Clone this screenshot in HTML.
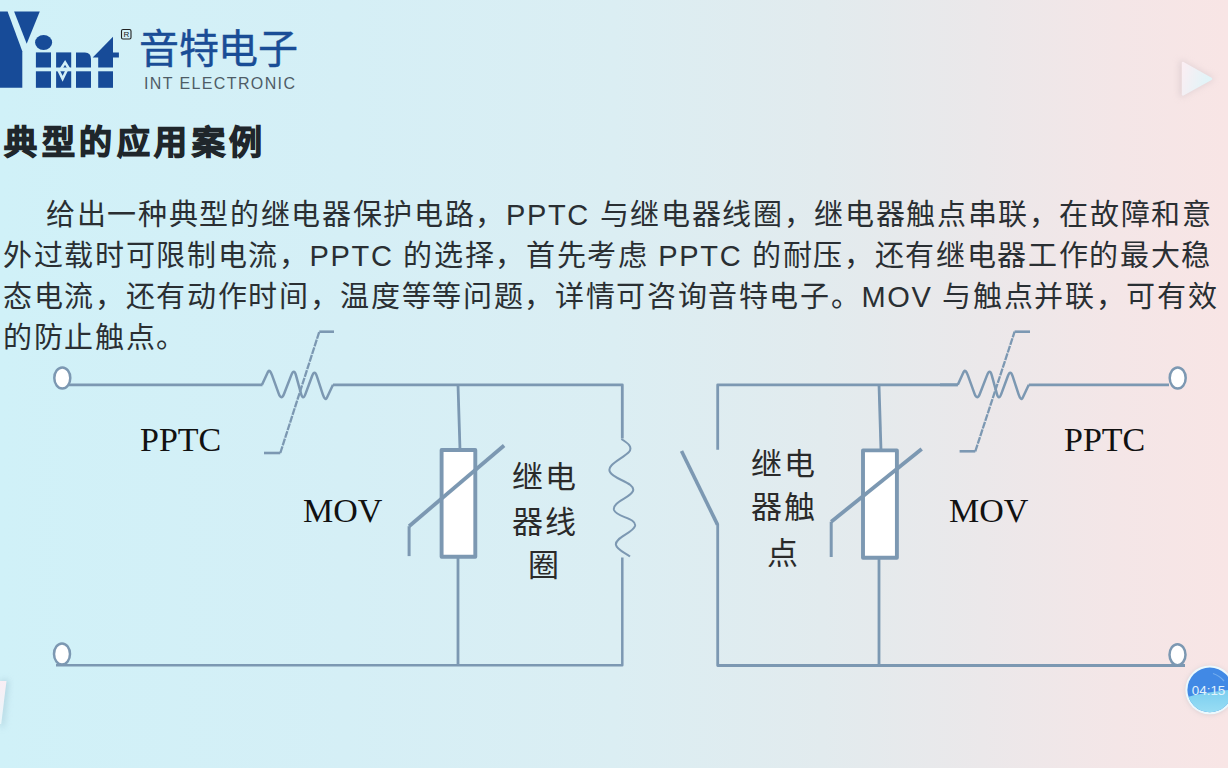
<!DOCTYPE html>
<html lang="zh-CN"><head><meta charset="utf-8">
<style>
html,body{margin:0;padding:0;}
body{width:1228px;height:768px;overflow:hidden;position:relative;
 font-family:"Liberation Sans",sans-serif;
 background:linear-gradient(to right,#d0f1f8 0%,#d5eff6 28%,#dbeef3 50%,#e2ebee 67%,#ebe8ea 80%,#f4e6e7 91%,#f8e5e5 100%);}
.a{position:absolute;white-space:nowrap;}
.p{font-size:29px;color:#2a2f33;line-height:1;text-spacing-trim:space-all;letter-spacing:1.66px}
.title{font-size:33px;font-weight:900;color:#1f262b;line-height:1;letter-spacing:4.5px;-webkit-text-stroke:1.2px #1f262b}
.cn{font-size:31px;color:#2a2a2a;line-height:1;letter-spacing:1.5px}
.ser{font-family:"Liberation Serif",serif;font-size:34px;color:#111;line-height:1;}
</style></head><body>

<!-- logo -->
<svg class="a" style="left:0;top:0" width="140" height="100" viewBox="0 0 140 100">
 <g fill="#174b98">
  <polygon points="0,11.45 7.6,11.45 22.3,51.3 22.3,87.8 0,87.8"/>
  <polygon points="14.1,11.45 39.8,11.45 26.7,43.7"/>
  <ellipse cx="43.6" cy="42.5" rx="8.55" ry="7.4"/>
  <rect x="35.9" y="52.4" width="15.1" height="15.1"/>
  <rect x="35.9" y="71.3" width="15.1" height="16.5"/>
  <rect x="56.1" y="52.4" width="15.1" height="15.1"/>
  <rect x="56.1" y="71.3" width="15.1" height="16.5"/>
  <path d="M76 52.4 H85 Q91 52.4 91 59 V67.5 H76 Z"/>
  <rect x="76" y="71.3" width="15" height="16.5"/>
  <polygon points="113,36.8 113,52.4 118.9,52.4 118.9,57.5 113,57.5 113,67.5 98.2,67.5 98.2,57.5 92.7,57.5"/>
  <rect x="98.2" y="71.3" width="14.8" height="16.5"/>
 </g>
 <polyline points="61.2,68.5 65.1,62.4 68.8,68.5" fill="none" stroke="#d3eff7" stroke-width="2.6"/>
 <polyline points="58.6,70.5 62.6,78.8 66.6,70.5" fill="none" stroke="#d3eff7" stroke-width="2.6"/>
 <g fill="none" stroke="#222" stroke-width="1.1"><rect x="121.5" y="29.5" width="9.5" height="9.5" rx="1.5"/></g>
 <text x="126.3" y="37.3" font-size="8" text-anchor="middle" fill="#222" font-family="Liberation Sans">R</text>
</svg>

<div class="a" style="left:139px;top:29.5px;font-size:40px;letter-spacing:-0.5px;color:#1a4d96;line-height:1;font-family:'Liberation Serif',serif;-webkit-text-stroke:0.4px #1a4d96">音特电子</div>
<div class="a" style="left:144px;top:76px;font-size:16px;letter-spacing:1.38px;color:#4e5c66;line-height:1">INT ELECTRONIC</div>

<div class="a title" style="left:4px;top:126px">典型的应用案例</div>

<div class="a p" style="left:46px;top:201px">给出一种典型的继电器保护电路，PPTC 与继电器线圈，继电器触点串联，在故障和意</div>
<div class="a p" style="left:3px;top:242px">外过载时可限制电流，PPTC 的选择，首先考虑 PPTC 的耐压，还有继电器工作的最大稳</div>
<div class="a p" style="left:3px;top:283px">态电流，还有动作时间，温度等等问题，详情可咨询音特电子。MOV 与触点并联，可有效</div>
<div class="a p" style="left:3px;top:324px">的防止触点。</div>


<svg class="a" style="left:0;top:0" width="1228" height="768" viewBox="0 0 1228 768">
 <g fill="none" stroke="#7c98b2" stroke-width="2.8" stroke-linecap="butt" stroke-linejoin="round">
  <!-- left circuit wires -->
  <path d="M69 384.8 H262.5"/>
  <path d="M333 384.8 H622.3 V438.5"/>
  <path stroke-width="2.5" d="M262.0 384.8 L267.9 371.9 Q269.5 368.3 272.1 375.4 L278.7 393.7 Q281.3 400.8 284.1 393.7 L291.2 375.4 Q294.0 368.3 296.0 375.4 L301.0 393.7 Q303.0 400.8 305.5 393.9 L312.0 376.2 Q314.5 369.3 316.9 376.3 L322.8 394.3 Q325.2 401.3 326.9 397.7 L333.0 384.8"/>
  <path stroke-width="2.5" d="M622.3 557.5 V665.2 H56"/>
  <path d="M458 384.8 L460 450"/>
  <path d="M458 556.5 V665.2"/>
  <!-- coil -->
  <path stroke-width="2" d="M621.3 439 C628 443 633 447 629 452 C622 459 606 465 610 472 C613 479 636 483 633 491 C630 498 612 502 614 510 C616 517 637 518 635 526 C633 533 614 538 616 545 C617 550 626 553 630 556.5"/>
  <!-- MOV left -->
  <rect x="441.6" y="450" width="33.7" height="106.7" fill="#fff" stroke-width="3.9"/>
  <path stroke-width="3.8" d="M409.1 526.2 L504.1 445.5"/>
  <path stroke-width="3" d="M409.1 526.2 V556.1"/>
  <!-- PPTC left thermistor line -->
  <path stroke-width="2.6" d="M264 453 H280.3"/><path stroke-width="2.6" d="M319.3 331.7 H334"/><path stroke-width="2.3" stroke-dasharray="7 1" d="M280.3 453 L319.3 331.7"/>
  <!-- right circuit -->
  <path d="M717.7 449.8 V384.8 H957.8"/>
  <path d="M957.8 384.8 H940"/>
  <path d="M1028.8 384.8 H1169"/>
  <path stroke-width="2.5" d="M957.8 384.8 L963.6 371.9 Q965.3 368.3 967.9 375.4 L974.5 393.7 Q977.1 400.8 979.9 393.7 L987.0 375.4 Q989.8 368.3 991.8 375.4 L996.8 393.7 Q998.8 400.8 1001.3 393.9 L1007.8 376.2 Q1010.3 369.3 1012.7 376.3 L1018.6 394.3 Q1021.0 401.3 1022.7 397.7 L1028.8 384.8"/>
  <path stroke-width="3.6" d="M681.5 451 L717.5 524.6"/>
  <path d="M717.7 524 V665.5 H1185"/>
  <path d="M879 384.8 L881 450.4"/>
  <path d="M879 557.8 V665.5"/>
  <rect x="863" y="450.4" width="33.9" height="107.4" fill="#fff" stroke-width="3.9"/>
  <path stroke-width="3.8" d="M831.2 521.7 L921.7 449"/>
  <path stroke-width="3" d="M831.2 521.7 V557"/>
  <path stroke-width="2.6" d="M959.6 451.3 H975.3"/><path stroke-width="2.6" d="M1014.6 331.7 H1030"/><path stroke-width="2.3" stroke-dasharray="7 1" d="M975.3 451.3 L1014.6 331.7"/>
  <!-- terminals -->
  <ellipse cx="62.3" cy="378" rx="8" ry="10.5" fill="#fff" stroke-width="2.5"/>
  <ellipse cx="62" cy="654" rx="8" ry="10.5" fill="#fff" stroke-width="2.5"/>
  <ellipse cx="1177.7" cy="378" rx="8" ry="10.5" fill="#fff" stroke-width="2.5"/>
  <ellipse cx="1177.5" cy="654.7" rx="8" ry="10.5" fill="#fff" stroke-width="2.5"/>
 </g>
</svg>
<div class="a ser" style="left:140px;top:423px">PPTC</div>
<div class="a ser" style="left:1064px;top:423px">PPTC</div>
<div class="a ser" style="left:303px;top:494px">MOV</div>
<div class="a ser" style="left:949px;top:494px">MOV</div>
<div class="a cn" style="left:512px;top:462px">继电</div>
<div class="a cn" style="left:512px;top:507px">器线</div>
<div class="a cn" style="left:527.5px;top:550px">圈</div>
<div class="a cn" style="left:751px;top:449px">继电</div>
<div class="a cn" style="left:751px;top:492px">器触</div>
<div class="a cn" style="left:767px;top:538px">点</div>


<!-- decorations -->
<svg class="a" style="left:1160px;top:40px" width="68" height="76" viewBox="1160 40 68 76">
 <defs>
  <linearGradient id="tg" x1="0" y1="0" x2="1" y2="0.3"><stop offset="0" stop-color="#fbeef3"/><stop offset="1" stop-color="#e0f4f8"/></linearGradient>
  <filter id="sh" x="-50%" y="-50%" width="200%" height="200%"><feGaussianBlur stdDeviation="3"/></filter><filter id="bl" x="-20%" y="-20%" width="140%" height="140%"><feGaussianBlur stdDeviation="0.7"/></filter>
 </defs>
 <path d="M1181 62 L1212 78.8 L1181 95.5 Z" fill="#d6c6ca" opacity="0.6" filter="url(#sh)" stroke="#d6c6ca" stroke-width="4" stroke-linejoin="round"/>
 <path d="M1183 63 L1211 78.8 L1183 94.5 Z" fill="url(#tg)" stroke="url(#tg)" stroke-width="2.5" stroke-linejoin="round" filter="url(#bl)"/>
</svg>
<svg class="a" style="left:0;top:660px" width="40" height="80" viewBox="0 660 40 80">
 <defs>
  <filter id="sh2" x="-50%" y="-50%" width="200%" height="200%"><feGaussianBlur stdDeviation="3"/></filter>
  <linearGradient id="lg2" x1="0" y1="0" x2="0" y2="1"><stop offset="0" stop-color="#f9eef4"/><stop offset="1" stop-color="#e8f7fb"/></linearGradient>
 </defs>
 <path d="M0 680 L9 680 L4 727 L0 727 Z" fill="#a8cbd8" opacity="0.7" filter="url(#sh2)"/>
 <path d="M0 681 L6.5 681 L1.2 724 L0 724 Z" fill="url(#lg2)"/>
</svg>
<svg class="a" style="left:1170px;top:650px" width="58" height="80" viewBox="1170 650 58 80">
 <defs>
  <clipPath id="cc"><circle cx="1209.8" cy="689.9" r="22.4"/></clipPath>
  <filter id="sh3" x="-50%" y="-50%" width="200%" height="200%"><feGaussianBlur stdDeviation="2"/></filter>
 </defs>
 <circle cx="1209.8" cy="690.5" r="25" fill="#c9c2c8" opacity="0.5" filter="url(#sh3)"/>
 <circle cx="1209.8" cy="689.9" r="24.4" fill="#ecf9fd"/>
 <g clip-path="url(#cc)">
  <rect x="1185" y="665" width="50" height="50" fill="#4189e5"/>
  <linearGradient id="cg" x1="0" y1="0" x2="0" y2="1"><stop offset="0" stop-color="#79cdf0"/><stop offset="1" stop-color="#9ee0f4"/></linearGradient><path d="M1185 698 C1198 693 1214 692 1235 689 V716 H1185 Z" fill="url(#cg)"/>
  <path d="M1213 673.5 Q1220 676 1224 681" fill="none" stroke="#7fb6f0" stroke-width="1.3" opacity="0.8"/>
 </g>
 <text x="1191.8" y="694.8" font-size="13.4" fill="#e2f3fc" font-family="Liberation Sans">04:15</text>
</svg>

</body></html>
